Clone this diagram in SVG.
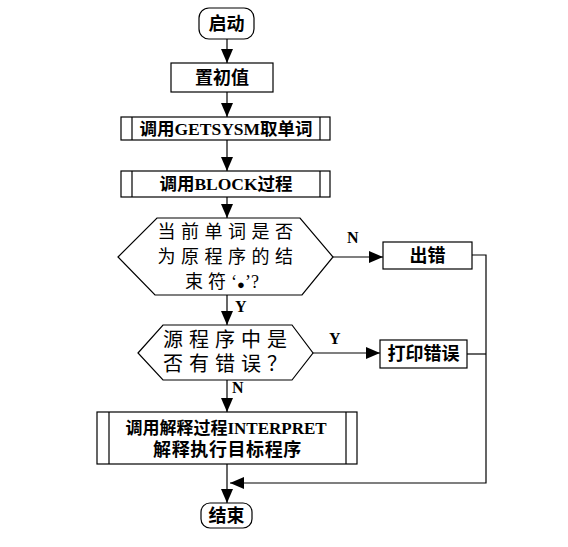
<svg xmlns="http://www.w3.org/2000/svg" width="568" height="547" viewBox="0 0 568 547">
<style>
.box{fill:#fff;stroke:#000;stroke-width:1.2}
.ln{fill:none;stroke:#000;stroke-width:1.2}
.t{font-family:"Liberation Serif","Noto Sans CJK SC",serif;font-weight:bold;font-size:18px;fill:#000;text-anchor:middle;dominant-baseline:central}
.h{font-family:"Liberation Serif","Noto Sans CJK SC",serif;font-size:18px;fill:#000;text-anchor:middle;dominant-baseline:central}
.lb{font-family:"Liberation Serif",serif;font-weight:bold;font-size:16px;fill:#000}
</style>
<defs>
<marker id="ah" markerUnits="userSpaceOnUse" markerWidth="14" markerHeight="12" viewBox="0 0 14 12" refX="14" refY="6" orient="auto">
<path d="M0,0 L14,6 L0,12 Z" fill="#000"/>
</marker>
</defs>
<rect width="568" height="547" fill="#fff"/>
<g id="connectors">
<path class="ln" d="M227,39 V63" marker-end="url(#ah)"/>
<path class="ln" d="M227,92 V117" marker-end="url(#ah)"/>
<path class="ln" d="M227,140 V171" marker-end="url(#ah)"/>
<path class="ln" d="M227,197 V218" marker-end="url(#ah)"/>
<path class="ln" d="M333,257 H383" marker-end="url(#ah)"/>
<path class="ln" d="M227,295 V325" marker-end="url(#ah)"/>
<path class="ln" d="M313,353 H380" marker-end="url(#ah)"/>
<path class="ln" d="M227,380 V412" marker-end="url(#ah)"/>
<path class="ln" d="M472,255 H486 V483 H230" marker-end="url(#ah)"/>
<path class="ln" d="M467,354 H486"/>
<path class="ln" d="M227,464 V503" marker-end="url(#ah)"/>
<text class="lb" x="347" y="243">N</text>
<text class="lb" x="235" y="312">Y</text>
<text class="lb" x="329" y="344">Y</text>
<text class="lb" x="232" y="393">N</text>
</g>
<g id="start">
<rect class="box" x="199" y="8" width="55" height="31" rx="10"/>
<text class="t" x="226.5" y="23.5">启动</text>
</g>
<g id="init">
<rect class="box" x="171" y="63" width="102" height="29"/>
<text class="t" x="222" y="77.5">置初值</text>
</g>
<g id="getsym">
<rect class="box" x="121" y="117" width="209" height="23"/>
<path class="ln" d="M132,117 V140 M320,117 V140"/>
<text class="t" x="226" y="128.5" style="font-size:17.5px">调用GETSYSM取单词</text>
</g>
<g id="block">
<rect class="box" x="121" y="171" width="209" height="26"/>
<path class="ln" d="M132,171 V197 M320,171 V197"/>
<text class="t" x="226" y="184" style="font-size:17.5px">调用BLOCK过程</text>
</g>
<g id="decision1">
<polygon class="box" points="118,257 157,218 300,218 333,257 302,295 155,295"/>
<text class="h" x="228" y="232" letter-spacing="5.5">当前单词是否</text>
<text class="h" x="228" y="257" letter-spacing="5.5">为原程序的结</text>
<text class="h" x="222" y="282"><tspan letter-spacing="5">束符</tspan><tspan>‘</tspan><tspan font-size="13" dy="2">●</tspan><tspan dy="-2">’?</tspan></text>
</g>
<g id="error">
<rect class="box" x="383" y="242" width="89" height="27"/>
<text class="t" x="427.5" y="255.5">出错</text>
</g>
<g id="decision2">
<polygon class="box" points="138,353 163,325 292,325 313,353 292,380 163,380"/>
<text class="h" x="228" y="340" style="font-size:20px" letter-spacing="6">源程序中是</text>
<text class="h" x="228" y="364" style="font-size:20px" letter-spacing="6">否有错误？</text>
</g>
<g id="printerr">
<rect class="box" x="380" y="340" width="87" height="28"/>
<text class="t" x="423.5" y="354">打印错误</text>
</g>
<g id="interpret">
<rect class="box" x="97" y="412" width="260" height="52"/>
<path class="ln" d="M109,412 V464 M346,412 V464"/>
<text class="t" x="226" y="428" style="font-size:17px">调用解释过程INTERPRET</text>
<text class="t" x="227.5" y="450" letter-spacing="0.6">解释执行目标程序</text>
</g>
<g id="end">
<rect class="box" x="201" y="503" width="51" height="25" rx="9"/>
<text class="t" x="226.5" y="515.5">结束</text>
</g>
</svg>
